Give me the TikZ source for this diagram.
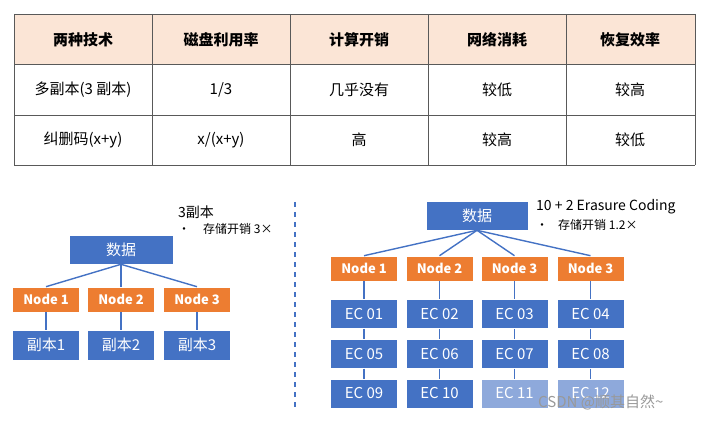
\documentclass[tikz,border=0pt]{standalone}
\usepackage{fontspec}
\setmainfont{Noto Sans CJK SC}
\begin{document}
\begin{tikzpicture}[x=1pt,y=-1pt,
  cell/.style={font=\fontsize{15}{17}\selectfont},
  hcell/.style={font=\fontsize{15}{17}\selectfont\bfseries},
  bl/.style={draw=white,line width=0.6pt,fill=blue1,text=white,inner sep=0pt,font=\fontsize{15}{17}\selectfont},
  bl2/.style={bl,fill=blue2},
  og/.style={draw=white,line width=0.6pt,fill=orange1,text=white,inner sep=0pt,font=\fontsize{13}{15}\selectfont\bfseries},
  con/.style={draw=blue1,line width=1.4pt}]
\definecolor{blue1}{HTML}{4472C4}
\definecolor{blue2}{HTML}{8EA9DB}
\definecolor{orange1}{HTML}{ED7D31}
\definecolor{peach}{HTML}{FBE5D6}
\useasboundingbox (0,0) rectangle (712,422);
% table
\fill[peach] (14,14) rectangle (695,64);
\foreach \y in {14,64,115,165} \draw[gray!70!black,line width=0.8pt] (14,\y) -- (695,\y);
\foreach \x in {14,152,290,428,566,695} \draw[gray!70!black,line width=0.8pt] (\x,14) -- (\x,165);
\node[hcell] (h1) at (83,40) {两种技术};
\node[hcell] (h2) at (221,40) {磁盘利用率};
\node[hcell] (h3) at (359,40) {计算开销};
\node[hcell] (h4) at (497,40) {网络消耗};
\node[hcell] (h5) at (630,40) {恢复效率};
\node[cell] (a1) at (83,90) {多副本(3 副本)};
\node[cell] (a2) at (221,90) {1/3};
\node[cell] (a3) at (359,90) {几乎没有};
\node[cell] (a4) at (497,90) {较低};
\node[cell] (a5) at (630,90) {较高};
\node[cell] (b1) at (83,140) {纠删码(x+y)};
\node[cell] (b2) at (221,140) {x/(x+y)};
\node[cell] (b3) at (359,140) {高};
\node[cell] (b4) at (497,140) {较高};
\node[cell] (b5) at (630,140) {较低};
% left tree
\node[bl,minimum width=104,minimum height=29] (d1) at (121,249.5) {数据};
\foreach \i/\x in {1/46,2/121,3/197}{
  \node[og,minimum width=67,minimum height=25] (n\i) at (\x,299.5) {Node \i};
  \node[bl,minimum width=67,minimum height=30] (r\i) at (\x,345) {副本\i};
  \draw[con] (d1.south) -- (n\i.north);
  \draw[con] (n\i) -- (r\i);
}
\node[anchor=west,inner sep=0,font=\fontsize{14}{16}\selectfont] (t1) at (178,212) {3副本};
\node[anchor=west,inner sep=0,font=\fontsize{12}{14}\selectfont] (t2) at (178,229) {•\hspace{13pt}存储开销 3×};
\draw[blue1,line width=1.3pt,dash pattern=on 5pt off 5pt] (295,202) coordinate (dA) -- (295,410) coordinate (dB);
% right tree
\node[bl,minimum width=102,minimum height=29] (d2) at (477,215.5) {数据};
\foreach \i/\x/\lab in {1/364/1,2/439.5/2,3/514.5/3,4/590.5/3}{
  \node[og,minimum width=67,minimum height=25] (m\i) at (\x,268.5) {Node \lab};
  \draw[con] (d2.south) -- (m\i.north);
}
\foreach \i/\c/\a/\b in {1/m1/01/05,2/m2/02/06,3/m3/03/07,4/m4/04/08}{
  \node[bl,minimum width=67,minimum height=29,anchor=north] (e\a) at ([yshift=-18]\c.south) {EC \a};
  \node[bl,minimum width=67,minimum height=29,anchor=north] (e\b) at ([yshift=-10]e\a.south) {EC \b};
  \draw[con] (\c) -- (e\a);
  \draw[con] (e\a) -- (e\b);
}
\node[bl,minimum width=67,minimum height=29,anchor=north] (e09) at ([yshift=-10]e05.south) {EC 09};
\node[bl,minimum width=67,minimum height=29,anchor=north] (e10) at ([yshift=-10]e06.south) {EC 10};
\node[bl2,minimum width=67,minimum height=29,anchor=north] (e11) at ([yshift=-10]e07.south) {EC 11};
\node[bl2,minimum width=67,minimum height=29,anchor=north] (e12) at ([yshift=-10]e08.south) {EC 12};
\draw[con] (e05) -- (e09); \draw[con] (e06) -- (e10);
\draw[con] (e07) -- (e11); \draw[con] (e08) -- (e12);
\node[anchor=west,inner sep=0,font=\fontsize{14}{16}\selectfont] (t3) at (536,207) {10 + 2 Erasure Coding};
\node[anchor=west,inner sep=0,font=\fontsize{12}{14}\selectfont] (t4) at (536,225) {•\hspace{10pt}存储开销 1.2×};
\node[anchor=west,inner sep=0,text=gray!80,font=\fontsize{15}{17}\selectfont] (wm) at (538,402) {CSDN @顺其自然\textasciitilde};
\end{tikzpicture}
\end{document}
